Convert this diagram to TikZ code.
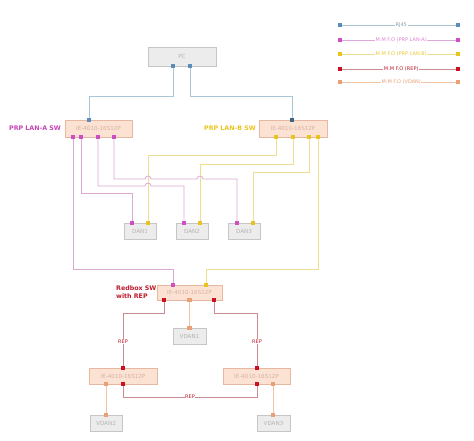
\documentclass[tikz,border=0pt]{standalone}
\usepackage{fontspec}
\setmainfont{DejaVu Sans}
\definecolor{swF}{HTML}{FCE2D2}
\definecolor{swB}{HTML}{E6B8A2}
\definecolor{swT}{HTML}{D6B2A6}
\definecolor{gF}{HTML}{ECECEC}
\definecolor{gB}{HTML}{C6C6C6}
\definecolor{gT}{HTML}{B4B4B4}
\definecolor{rjL}{HTML}{A9C6D6}
\definecolor{rjP}{HTML}{5A8DBA}
\definecolor{aL}{HTML}{DBA8D8}
\definecolor{aP}{HTML}{D04EC2}
\definecolor{aT}{HTML}{C244B4}
\definecolor{bL}{HTML}{EEDF90}
\definecolor{bP}{HTML}{E9C31E}
\definecolor{rL}{HTML}{C98C92}
\definecolor{rP}{HTML}{CC1022}
\definecolor{rT}{HTML}{BE1A2A}
\definecolor{vL}{HTML}{F1C4A4}
\definecolor{vP}{HTML}{E9A074}
\begin{document}
\begin{tikzpicture}[x=1pt,y=-1pt,
  every node/.style={inner sep=0pt},
  sw/.style={draw=swB, fill=swF, line width=0.6pt, minimum width=#1, minimum height=17pt,
    font=\fontsize{5.6}{6}\selectfont, text=swT},
  gbox/.style={draw=gB, fill=gF, line width=0.7pt, minimum width=#1, minimum height=16pt,
    font=\fontsize{5.6}{6}\selectfont, text=gT},
  port/.style={minimum size=4.4pt, fill=#1},
  rj/.style={draw=rjL, line width=0.8pt},
  la/.style={draw=aL, line width=0.8pt},
  lb/.style={draw=bL, line width=0.8pt},
  rep/.style={draw=rL, line width=0.8pt},
  vd/.style={draw=vL, line width=0.8pt},
  tag/.style={font=\bfseries\fontsize{6.3}{7.8}\selectfont, text=#1, align=left},
  lbl/.style={fill=white, inner sep=0.6pt, font=\fontsize{5}{5}\selectfont, text=#1}]
\useasboundingbox (0,0) rectangle (474,441);

% boxes
\node[gbox=68pt, minimum height=19pt] (pc) at (182,56.5) {PC};
\node[sw=67pt] (swa) at (98.5,128.5) {IE-4010-16S12P};
\node[sw=68pt] (swb) at (293,128.5) {IE-4010-16S12P};
\node[gbox=32pt] (dan1) at (140,231) {DAN1};
\node[gbox=32pt] (dan2) at (192,231) {DAN2};
\node[gbox=32pt] (dan3) at (244,231) {DAN3};
\node[sw=65pt, minimum height=15pt] (rb) at (189.5,292.5) {IE-4010-16S12P};
\node[gbox=33pt] (vdan1) at (189.5,336) {VDAN1};
\node[sw=68pt, minimum height=16pt] (swl) at (123,376) {IE-4010-16S12P};
\node[sw=67pt, minimum height=16pt] (swr) at (256.5,376) {IE-4010-16S12P};
\node[gbox=32pt] (vdan2) at (106,423) {VDAN2};
\node[gbox=33pt] (vdan3) at (273.5,423) {VDAN3};

% labels
\node[tag=aT, anchor=west] (tga) at (9,128) {PRP LAN-A SW};
\node[tag=bP, anchor=west] (tgb) at (204,128) {PRP LAN-B SW};
\node[tag=rT, anchor=west] (tgr) at (116,292) {Redbox SW\\with REP};

% ports
\node[port=rjP] (pc1) at (173,66) {};
\node[port=rjP] (pc2) at (190,66) {};
\node[port=rjP] (sat) at (89,120) {};
\node[port=rjP!70!black] (sbt) at (292,120) {};
\node[port=aP] (sa0) at (73,137) {};
\node[port=aP] (sa1) at (81,137) {};
\node[port=aP] (sa2) at (98,137) {};
\node[port=aP] (sa3) at (114,137) {};
\node[port=bP] (sb0) at (276,137) {};
\node[port=bP] (sb1) at (293,137) {};
\node[port=bP] (sb2) at (309,137) {};
\node[port=bP] (sb3) at (318,137) {};
\node[port=aP] (d1m) at (132,223) {};
\node[port=bP] (d1y) at (148,223) {};
\node[port=aP] (d2m) at (184,223) {};
\node[port=bP] (d2y) at (200,223) {};
\node[port=aP] (d3m) at (237,223) {};
\node[port=bP] (d3y) at (253,223) {};
\node[port=aP] (rbm) at (173,285) {};
\node[port=bP] (rby) at (206,285) {};
\node[port=rP] (rbr1) at (164,300) {};
\node[port=vP] (rbo) at (189.5,300) {};
\node[port=rP] (rbr2) at (214,300) {};
\node[port=vP] (v1p) at (189.5,328) {};
\node[port=rP] (swlt) at (123,368) {};
\node[port=rP] (swlb) at (123,384) {};
\node[port=vP] (swlo) at (106,384) {};
\node[port=rP] (swrt) at (257,368) {};
\node[port=rP] (swrb) at (257,384) {};
\node[port=vP] (swro) at (273,384) {};
\node[port=vP] (v2p) at (106,415) {};
\node[port=vP] (v3p) at (273,415) {};

% RJ45
\draw[rj] (pc1) -- ++(0,30) -| (sat);
\draw[rj] (pc2) -- ++(0,30) -| (sbt);
% LAN-B
\draw[lb] (sb0) -- ++(0,18) -| (d1y);
\draw[lb] (sb1) -- ++(0,27) -| (d2y);
\draw[lb] (sb2) -- ++(0,35) -| (d3y);
\draw[lb] (sb3) -- ++(0,132) -| (rby);
% LAN-A
\draw[la] (sa0) -- ++(0,132) -| (rbm);
\draw[la] (sa1) -- ++(0,56) -| (d1m);
\draw[la] (sa2) -- ++(0,49) -- (145,186) arc[start angle=180, end angle=0, radius=3pt] -| (d2m);
\draw[la] (sa3) -- ++(0,42) -- (145,179) arc[start angle=180, end angle=0, radius=3pt]
  -- (197,179) arc[start angle=180, end angle=0, radius=3pt] -| (d3m);
% REP
\draw[rep] (rbr1) -- ++(0,13) -| (swlt) node[lbl=rT, pos=0.77] {REP};
\draw[rep] (rbr2) -- ++(0,13) -| (swrt) node[lbl=rT, pos=0.77] {REP};
\draw[rep] (swlb) -- ++(0,13) -| (swrb) node[lbl=rT, pos=0.25] {REP};
% VDAN
\draw[vd] (rbo) -- (v1p);
\draw[vd] (swlo) -- (v2p);
\draw[vd] (swro) -- (v3p);

% legend
\node[port=rjP] (k1a) at (340,25) {};
\node[port=rjP] (k1b) at (458,25) {};
\node[port=aP] (k2a) at (340,40) {};
\node[port=aP] (k2b) at (458,40) {};
\node[port=bP] (k3a) at (340,54) {};
\node[port=bP] (k3b) at (458,54) {};
\node[port=rP] (k4a) at (340,69) {};
\node[port=rP] (k4b) at (458,69) {};
\node[port=vP] (k5a) at (340,82) {};
\node[port=vP] (k5b) at (458,82) {};
\draw[rj] (k1a) -- (k1b) node[lbl=rjL!80!black, pos=0.52] {RJ45};
\draw[la] (k2a) -- (k2b) node[lbl=aP!70, pos=0.52] {M.M F.O (PRP LAN-A)};
\draw[lb] (k3a) -- (k3b) node[lbl=bP!90, pos=0.52] {M.M F.O (PRP LAN-B)};
\draw[rep] (k4a) -- (k4b) node[lbl=rT, pos=0.52] {M.M F.O (REP)};
\draw[vd] (k5a) -- (k5b) node[lbl=vP, pos=0.52] {M.M F.O (VDAN)};
\end{tikzpicture}
\end{document}
